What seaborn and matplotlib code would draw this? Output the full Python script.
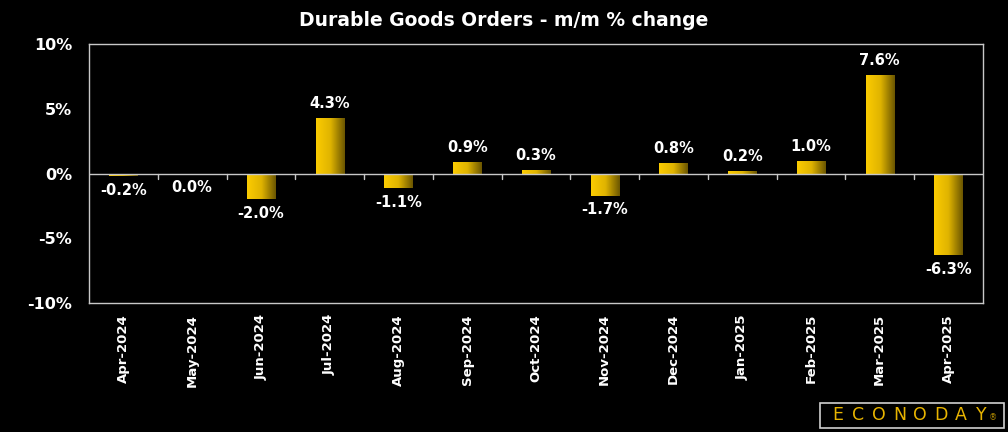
import matplotlib
matplotlib.use("Agg")
import matplotlib.pyplot as plt
import matplotlib.patches as mpatches
from matplotlib.colors import LinearSegmentedColormap
import seaborn as sns
import pandas as pd
import numpy as np

meses = ["Apr-2024", "May-2024", "Jun-2024", "Jul-2024", "Aug-2024", "Sep-2024", "Oct-2024",
         "Nov-2024", "Dec-2024", "Jan-2025", "Feb-2025", "Mar-2025", "Apr-2025"]
valores = [-0.2, 0.0, -2.0, 4.3, -1.1, 0.9, 0.3, -1.7, 0.8, 0.2, 1.0, 7.6, -6.3]
y_ticks = [-10, -5, 0, 5, 10]

df = pd.DataFrame({"Mes": meses, "Valor": valores})

sns.set_style("dark")
plt.rcParams["font.family"] = ["DejaVu Sans"]
linha = "#c8c8c8"

fig = plt.figure(figsize=(10.08, 4.32), dpi=100, facecolor="black")
ax = fig.add_axes([0.0883, 0.2986, 0.8867, 0.5994])
ax.set_facecolor("black")

sns.barplot(data=df, x="Mes", y="Valor", color="#f5c400", width=0.41, ax=ax,
            saturation=1, linewidth=0, edgecolor="none")

# gradiente horizontal nas barras
cmap = LinearSegmentedColormap.from_list("ouro", ["#fccc00", "#e0b400", "#6a5500"])
grad = np.linspace(0, 1, 256).reshape(1, -1)
for patch in ax.patches:
    x0, y0 = patch.get_x(), patch.get_y()
    w, h = patch.get_width(), patch.get_height()
    if h == 0:
        h = 0.001
    im = ax.imshow(grad, cmap=cmap, aspect="auto", extent=[x0, x0 + w, y0, y0 + h],
                   zorder=patch.get_zorder() + 0.1, interpolation="bicubic")
    im.set_clip_path(patch)

ax.set_xlim(-0.5, len(meses) - 0.5)
ax.set_ylim(-10, 10)
ax.set_yticks(y_ticks)
ax.set_yticklabels([f"{t}%" for t in y_ticks], color="white", fontsize=11.5, fontweight="bold")
ax.tick_params(axis="y", direction="in", length=5, color=linha, pad=12)
ax.tick_params(axis="x", length=0, pad=8)
plt.setp(ax.get_xticklabels(), rotation=90, color="white", fontsize=9.5, fontweight="bold")
ax.set_xlabel("")
ax.set_ylabel("")
ax.grid(False)
for s in ax.spines.values():
    s.set_visible(True)
    s.set_color(linha)
    s.set_linewidth(1)

# linha do zero e marcas entre categorias
ax.axhline(0, color=linha, linewidth=1, zorder=5)
for b in np.arange(0.5, len(meses) - 1, 1.0):
    ax.plot([b, b], [0, -0.4], color=linha, linewidth=1, zorder=5)

for i, v in enumerate(valores):
    acima = v > 0
    ax.annotate(f"{v:.1f}%", (i, v), xytext=(0, 5 if acima else -5), textcoords="offset points",
                ha="center", va="bottom" if acima else "top",
                color="white", fontsize=10.5, fontweight="bold")

fig.text(0.5, 0.953, "Durable Goods Orders - m/m % change", ha="center", va="center",
         color="white", fontsize=13.5, fontweight="bold")

# logo
fig.add_artist(mpatches.Rectangle((820 / 1008, 1 - 428 / 432), 184 / 1008, 25 / 432,
                                  transform=fig.transFigure, fill=False,
                                  edgecolor="#d0d0d0", linewidth=1.2))
for k, letra in enumerate("ECONODAY"):
    fig.text((838 + k * 20.5) / 1008, 1 - 415.5 / 432, letra, ha="center", va="center",
             color="#e8b400", fontsize=12.5)
fig.text(993 / 1008, 1 - 418 / 432, "®", ha="center", va="center", color="#b08a00", fontsize=6)

fig.savefig("out.png", dpi=100, facecolor="black")
plt.close(fig)
